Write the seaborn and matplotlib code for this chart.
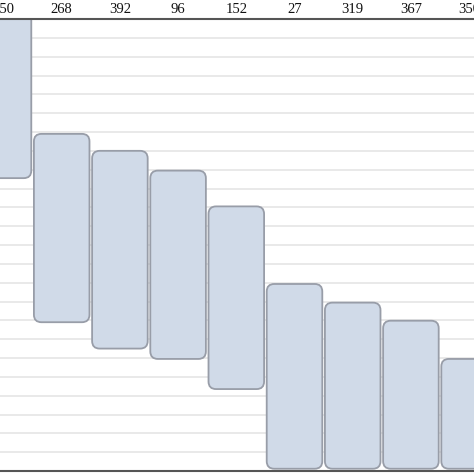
import numpy as np
import matplotlib
matplotlib.use("Agg")
import matplotlib.pyplot as plt
import seaborn as sns
from matplotlib.patches import FancyBboxPatch

# column labels along the top and the low / high end of each floating box
labels = ["150", "268", "392", "96", "152", "27", "319", "367", "350"]
box_low = [15.55, 7.9, 6.5, 5.95, 4.35, 0.12, 0.12, 0.12, 0.12]
box_high = [25.5, 17.9, 17.0, 15.95, 14.05, 9.93, 8.94, 7.98, 5.95]

sns.set_style("white")
plt.rcParams['font.family'] = ['Liberation Serif', 'DejaVu Serif']

fig = plt.figure(figsize=(4.74, 4.74), dpi=100)
ax = fig.add_axes([0, 3 / 474, 1, 452 / 474])

heights = np.array(box_high) - np.array(box_low)
face = "#d0dae8"
edge = "#989da8"
sns.barplot(x=labels, y=heights, bottom=box_low, width=0.955, color=face,
            saturation=1, ax=ax)

# swap the plain rectangles for rounded ones
aspect = 58.2 / 18.83
for p in list(ax.patches):
    fb = FancyBboxPatch((p.get_x(), p.get_y()), p.get_width(), p.get_height(),
                        boxstyle="round,pad=0,rounding_size=0.13",
                        mutation_aspect=aspect, facecolor=face,
                        edgecolor=edge, linewidth=1.3, zorder=2)
    p.remove()
    ax.add_patch(fb)

ax.set_xlim(-0.06, 8.084)
ax.set_ylim(0, 24)
ax.set_yticks(range(25))
ax.set_yticklabels([])
ax.yaxis.grid(True, color="#e3e3e3", linewidth=1.1)
ax.xaxis.grid(False)
ax.set_axisbelow(True)

ax.xaxis.tick_top()
ax.tick_params(axis='x', length=0, pad=2, labelsize=10.5, colors="#111111")
ax.tick_params(axis='y', length=0)
ax.set_xlabel("")
ax.set_ylabel("")

for side in ["left", "right"]:
    ax.spines[side].set_visible(False)
for side in ["top", "bottom"]:
    ax.spines[side].set_color("#555555")
    ax.spines[side].set_linewidth(1.5)

fig.savefig("out.png", dpi=100)
